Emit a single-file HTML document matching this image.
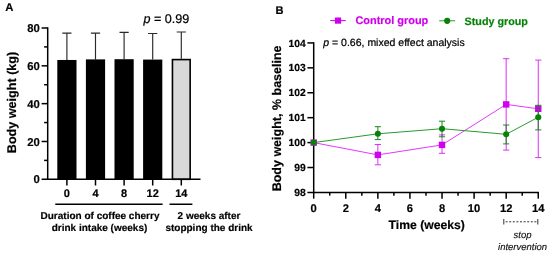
<!DOCTYPE html><html><head><meta charset="utf-8"><title>Figure</title>
<style>html,body{margin:0;padding:0;background:#fff}svg{display:block}text{font-family:"Liberation Sans", Arial, sans-serif;text-rendering:geometricPrecision;stroke-linejoin:round}.k{stroke:#000;stroke-width:.22px}.kb{stroke:#000;stroke-width:.18px}</style>
</head><body>
<svg width="550" height="253" viewBox="0 0 550 253">
<rect width="550" height="253" fill="#fff"/>
<text x="5.2" y="11.4" font-size="11.3" font-weight="bold" class="kb">A</text>
<path d="M66.90 59.96V33.11M62.30 33.11H71.50" stroke="#2a2a2a" stroke-width="1.15" fill="none"/>
<rect x="57.30" y="59.96" width="19.20" height="119.34" fill="#000"/>
<path d="M95.50 59.39V33.11M90.90 33.11H100.10" stroke="#2a2a2a" stroke-width="1.15" fill="none"/>
<rect x="85.90" y="59.39" width="19.20" height="119.91" fill="#000"/>
<path d="M124.10 59.21V32.35M119.50 32.35H128.70" stroke="#2a2a2a" stroke-width="1.15" fill="none"/>
<rect x="114.50" y="59.21" width="19.20" height="120.09" fill="#000"/>
<path d="M152.70 59.58V33.48M148.10 33.48H157.30" stroke="#2a2a2a" stroke-width="1.15" fill="none"/>
<rect x="143.10" y="59.58" width="19.20" height="119.72" fill="#000"/>
<path d="M181.30 58.83V31.97M176.70 31.97H185.90" stroke="#2a2a2a" stroke-width="1.15" fill="none"/>
<rect x="172.45" y="59.58" width="17.70" height="119.72" fill="#d9d9d9" stroke="#000" stroke-width="1.6"/>
<path d="M47.70 27.30V180.00" stroke="#000" stroke-width="1.5" fill="none"/>
<path d="M41.60 179.30H200.50" stroke="#000" stroke-width="1.5" fill="none"/>
<path d="M44.10 160.39H47.70" stroke="#000" stroke-width="1.5"/>
<path d="M41.60 141.48H47.70" stroke="#000" stroke-width="1.5"/>
<path d="M44.10 122.56H47.70" stroke="#000" stroke-width="1.5"/>
<path d="M41.60 103.65H47.70" stroke="#000" stroke-width="1.5"/>
<path d="M44.10 84.74H47.70" stroke="#000" stroke-width="1.5"/>
<path d="M41.60 65.83H47.70" stroke="#000" stroke-width="1.5"/>
<path d="M44.10 46.91H47.70" stroke="#000" stroke-width="1.5"/>
<path d="M41.60 28.00H47.70" stroke="#000" stroke-width="1.5"/>
<text x="39.8" y="183.35" font-size="11.3" font-weight="bold" class="kb" text-anchor="end">0</text>
<text x="39.8" y="145.53" font-size="11.3" font-weight="bold" class="kb" text-anchor="end">20</text>
<text x="39.8" y="107.70" font-size="11.3" font-weight="bold" class="kb" text-anchor="end">40</text>
<text x="39.8" y="69.88" font-size="11.3" font-weight="bold" class="kb" text-anchor="end">60</text>
<text x="39.8" y="32.05" font-size="11.3" font-weight="bold" class="kb" text-anchor="end">80</text>
<path d="M66.90 179.30V185.50" stroke="#000" stroke-width="1.5"/>
<text x="66.90" y="196.9" font-size="11.0" font-weight="bold" class="kb" text-anchor="middle">0</text>
<path d="M95.50 179.30V185.50" stroke="#000" stroke-width="1.5"/>
<text x="95.50" y="196.9" font-size="11.0" font-weight="bold" class="kb" text-anchor="middle">4</text>
<path d="M124.10 179.30V185.50" stroke="#000" stroke-width="1.5"/>
<text x="124.10" y="196.9" font-size="11.0" font-weight="bold" class="kb" text-anchor="middle">8</text>
<path d="M152.70 179.30V185.50" stroke="#000" stroke-width="1.5"/>
<text x="152.70" y="196.9" font-size="11.0" font-weight="bold" class="kb" text-anchor="middle">12</text>
<path d="M181.30 179.30V185.50" stroke="#000" stroke-width="1.5"/>
<text x="181.30" y="196.9" font-size="11.0" font-weight="bold" class="kb" text-anchor="middle">14</text>
<text transform="translate(15.6 102.5) rotate(-90)" font-size="12.6" font-weight="bold" class="kb" text-anchor="middle">Body weight (kg)</text>
<text x="143.4" y="23.3" font-size="12.6" class="k"><tspan font-style="italic">p</tspan> = 0.99</text>
<path d="M55.3 204.3H162.6M169.5 204.3H192.4" stroke="#000" stroke-width="1.6"/>
<text x="100.0" y="219" font-size="10" font-weight="bold" class="kb" text-anchor="middle">Duration of coffee cherry</text>
<text x="99.5" y="231" font-size="10" font-weight="bold" class="kb" text-anchor="middle">drink intake (weeks)</text>
<text x="209" y="219" font-size="10" font-weight="bold" class="kb" text-anchor="middle">2 weeks after</text>
<text x="209" y="231" font-size="10" font-weight="bold" class="kb" text-anchor="middle">stopping the drink</text>
<text x="275.4" y="14.0" font-size="11.1" font-weight="bold" class="kb">B</text>
<path d="M330.2 20.6H345.8" stroke="#d000ee" stroke-width="1"/>
<rect x="334.9" y="17.5" width="6.2" height="6.2" fill="#d000ee"/>
<text x="355.4" y="24.4" font-size="10.95" font-weight="bold" fill="#d000ee" stroke="#d000ee" stroke-width="0.18">Control group</text>
<path d="M439.2 20.8H455.2" stroke="#2a9a2e" stroke-width="1"/>
<circle cx="447.2" cy="20.8" r="3.1" fill="#078207"/>
<text x="464.6" y="24.6" font-size="10.75" font-weight="bold" fill="#078207" stroke="#078207" stroke-width="0.18">Study group</text>
<text x="323.3" y="46.1" font-size="10.5" fill="#000" class="k"><tspan font-style="italic">p</tspan> = 0.66, mixed effect analysis</text>
<path d="M313.70 42.22V193.14" stroke="#000" stroke-width="1.5" fill="none"/>
<path d="M307.40 192.44H538.96" stroke="#000" stroke-width="1.5" fill="none"/>
<path d="M307.40 167.52H313.70" stroke="#000" stroke-width="1.5"/>
<path d="M307.40 142.60H313.70" stroke="#000" stroke-width="1.5"/>
<path d="M307.40 117.68H313.70" stroke="#000" stroke-width="1.5"/>
<path d="M307.40 92.76H313.70" stroke="#000" stroke-width="1.5"/>
<path d="M307.40 67.84H313.70" stroke="#000" stroke-width="1.5"/>
<path d="M307.40 42.92H313.70" stroke="#000" stroke-width="1.5"/>
<text x="305.7" y="196.09" font-size="10.3" font-weight="bold" class="kb" text-anchor="end">98</text>
<text x="305.7" y="171.17" font-size="10.3" font-weight="bold" class="kb" text-anchor="end">99</text>
<text x="305.7" y="146.25" font-size="10.3" font-weight="bold" class="kb" text-anchor="end">100</text>
<text x="305.7" y="121.33" font-size="10.3" font-weight="bold" class="kb" text-anchor="end">101</text>
<text x="305.7" y="96.41" font-size="10.3" font-weight="bold" class="kb" text-anchor="end">102</text>
<text x="305.7" y="71.49" font-size="10.3" font-weight="bold" class="kb" text-anchor="end">103</text>
<text x="305.7" y="46.57" font-size="10.3" font-weight="bold" class="kb" text-anchor="end">104</text>
<path d="M313.70 192.44V198.64" stroke="#000" stroke-width="1.5"/>
<text x="313.70" y="211.6" font-size="11.2" font-weight="bold" class="kb" text-anchor="middle">0</text>
<path d="M329.74 192.44V195.64" stroke="#000" stroke-width="1.5"/>
<path d="M345.78 192.44V198.64" stroke="#000" stroke-width="1.5"/>
<text x="345.78" y="211.6" font-size="11.2" font-weight="bold" class="kb" text-anchor="middle">2</text>
<path d="M361.82 192.44V195.64" stroke="#000" stroke-width="1.5"/>
<path d="M377.86 192.44V198.64" stroke="#000" stroke-width="1.5"/>
<text x="377.86" y="211.6" font-size="11.2" font-weight="bold" class="kb" text-anchor="middle">4</text>
<path d="M393.90 192.44V195.64" stroke="#000" stroke-width="1.5"/>
<path d="M409.94 192.44V198.64" stroke="#000" stroke-width="1.5"/>
<text x="409.94" y="211.6" font-size="11.2" font-weight="bold" class="kb" text-anchor="middle">6</text>
<path d="M425.98 192.44V195.64" stroke="#000" stroke-width="1.5"/>
<path d="M442.02 192.44V198.64" stroke="#000" stroke-width="1.5"/>
<text x="442.02" y="211.6" font-size="11.2" font-weight="bold" class="kb" text-anchor="middle">8</text>
<path d="M458.06 192.44V195.64" stroke="#000" stroke-width="1.5"/>
<path d="M474.10 192.44V198.64" stroke="#000" stroke-width="1.5"/>
<text x="474.10" y="211.6" font-size="11.2" font-weight="bold" class="kb" text-anchor="middle">10</text>
<path d="M490.14 192.44V195.64" stroke="#000" stroke-width="1.5"/>
<path d="M506.18 192.44V198.64" stroke="#000" stroke-width="1.5"/>
<text x="506.18" y="211.6" font-size="11.2" font-weight="bold" class="kb" text-anchor="middle">12</text>
<path d="M522.22 192.44V195.64" stroke="#000" stroke-width="1.5"/>
<path d="M538.26 192.44V198.64" stroke="#000" stroke-width="1.5"/>
<text x="538.26" y="211.6" font-size="11.2" font-weight="bold" class="kb" text-anchor="middle">14</text>
<text transform="translate(280.9 118.4) rotate(-90)" font-size="12.5" font-weight="bold" class="kb" text-anchor="middle">Body weight, % baseline</text>
<text x="426.7" y="228.8" font-size="12.2" font-weight="bold" class="kb" text-anchor="middle">Time (weeks)</text>
<polyline points="313.70,142.60 377.86,154.90 442.02,144.90 506.18,104.40 538.26,108.80" fill="none" stroke="#e03cf7" stroke-width="1"/>
<rect x="310.50" y="139.40" width="6.4" height="6.4" fill="#d000ee"/>
<path d="M377.86 144.50V164.80M374.76 144.50H380.96M374.76 164.80H380.96" stroke="#dc30f5" stroke-width="1" fill="none"/>
<rect x="374.66" y="151.70" width="6.4" height="6.4" fill="#d000ee"/>
<path d="M442.02 134.90V153.30M438.92 134.90H445.12M438.92 153.30H445.12" stroke="#dc30f5" stroke-width="1" fill="none"/>
<rect x="438.82" y="141.70" width="6.4" height="6.4" fill="#d000ee"/>
<path d="M506.18 58.70V150.10M503.08 58.70H509.28M503.08 150.10H509.28" stroke="#dc30f5" stroke-width="1" fill="none"/>
<rect x="502.98" y="101.20" width="6.4" height="6.4" fill="#d000ee"/>
<path d="M538.26 60.10V157.60M535.16 60.10H541.36M535.16 157.60H541.36" stroke="#dc30f5" stroke-width="1" fill="none"/>
<rect x="535.06" y="105.60" width="6.4" height="6.4" fill="#d000ee"/>
<polyline points="313.70,142.60 377.86,133.80 442.02,128.70 506.18,134.30 538.26,117.20" fill="none" stroke="#2a9a2e" stroke-width="1"/>
<circle cx="313.70" cy="142.60" r="3.05" fill="#078207"/>
<path d="M377.86 126.70V139.60M374.76 126.70H380.96M374.76 139.60H380.96" stroke="#1c861e" stroke-width="1" fill="none"/>
<circle cx="377.86" cy="133.80" r="3.05" fill="#078207"/>
<path d="M442.02 121.20V136.80M438.92 121.20H445.12M438.92 136.80H445.12" stroke="#1c861e" stroke-width="1" fill="none"/>
<circle cx="442.02" cy="128.70" r="3.05" fill="#078207"/>
<path d="M506.18 125.00V143.90M503.08 125.00H509.28M503.08 143.90H509.28" stroke="#1c861e" stroke-width="1" fill="none"/>
<circle cx="506.18" cy="134.30" r="3.05" fill="#078207"/>
<path d="M538.26 105.30V129.90M535.16 105.30H541.36M535.16 129.90H541.36" stroke="#1c861e" stroke-width="1" fill="none"/>
<circle cx="538.26" cy="117.20" r="3.05" fill="#078207"/>
<path d="M503.8 219V224.5M537.8 219V224.5" stroke="#333" stroke-width="1"/>
<path d="M505.6 221.8H536.5" stroke="#333" stroke-width="1" stroke-dasharray="2 1.6"/>
<text x="522.5" y="238" font-size="9.5" font-style="italic" fill="#111" stroke="#111" stroke-width="0.15" text-anchor="middle">stop</text>
<text x="522.6" y="249.7" font-size="9.5" font-style="italic" fill="#111" stroke="#111" stroke-width="0.15" text-anchor="middle">intervention</text>
</svg></body></html>
